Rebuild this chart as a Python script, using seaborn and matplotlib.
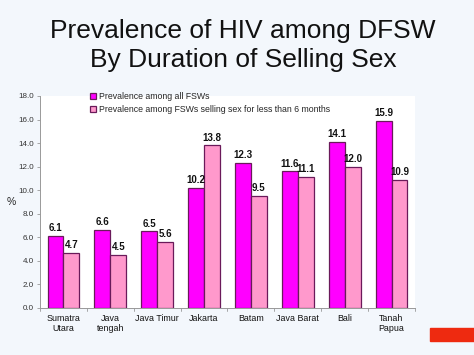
import pandas as pd
import matplotlib.pyplot as plt
import matplotlib.patches as mpatches
import seaborn as sns

# data
regions = ['Sumatra\nUtara', 'Java\ntengah', 'Java Timur', 'Jakarta',
           'Batam', 'Java Barat', 'Bali', 'Tanah\nPapua']
all_fsw = [6.1, 6.6, 6.5, 10.2, 12.3, 11.6, 14.1, 15.9]
short_fsw = [4.7, 4.5, 5.6, 13.8, 9.5, 11.1, 12.0, 10.9]
series_names = ['Prevalence among all FSWs',
                'Prevalence among FSWs selling sex for less than 6 months']
yticks = [0, 2, 4, 6, 8, 10, 12, 14, 16, 18]

df = pd.DataFrame({
    'region': regions * 2,
    'value': all_fsw + short_fsw,
    'series': [series_names[0]] * len(regions) + [series_names[1]] * len(regions),
})

sns.set_style('white')
plt.rcParams['font.family'] = ['Liberation Sans', 'DejaVu Sans']

bg = '#f3f7fc'
fig = plt.figure(figsize=(4.74, 3.55), dpi=100, facecolor=bg)
ax = fig.add_axes([0.0844, 0.1324, 0.791, 0.5972])
ax.set_facecolor('white')

sns.barplot(data=df, x='region', y='value', hue='series',
            palette=['#ff00ff', '#ff99cc'], width=0.68,
            edgecolor='#6a1a5a', linewidth=0.9, saturation=1, ax=ax)

for cont in ax.containers:
    ax.bar_label(cont, fmt='%.1f', padding=2, fontsize=7,
                 fontweight='bold', color='#111111')

ax.set_ylim(0, 18)
ax.set_yticks(yticks)
ax.set_yticklabels([f'{t:.1f}' for t in yticks], fontsize=5.8, color='#333333')
ax.tick_params(axis='y', length=2.5, width=0.6, color='#999999', pad=2, left=True)
ax.set_xticks(range(len(regions)))
ax.set_xticklabels(regions, fontsize=6.4, color='#111111', linespacing=1.15)
ax.tick_params(axis='x', length=0, pad=4)
# small ticks between categories
for i in range(len(regions) + 1):
    ax.plot([i - 0.5, i - 0.5], [0, -0.25], color='#999999', lw=0.6, clip_on=False)
ax.set_xlim(-0.5, len(regions) - 0.5)
ax.set_xlabel('')
ax.set_ylabel('%', rotation=0, fontsize=7.5, labelpad=5, va='center')

sns.despine(ax=ax)
for s in ['left', 'bottom']:
    ax.spines[s].set_color('#999999')
    ax.spines[s].set_linewidth(0.7)

leg = ax.legend(loc='upper left', bbox_to_anchor=(0.125, 1.035), frameon=False,
                fontsize=6.3, handlelength=0.7, handleheight=0.7,
                handletextpad=0.3, labelspacing=0.45, borderaxespad=0)

fig.text(0.513, 0.913, 'Prevalence of HIV among DFSW', ha='center', va='center',
         fontsize=19, color='#111111')
fig.text(0.513, 0.832, 'By Duration of Selling Sex', ha='center', va='center',
         fontsize=19, color='#111111')

# red strip at the bottom right corner
fig.patches.append(mpatches.Rectangle((0.908, 0.04), 0.092, 0.037,
                                      transform=fig.transFigure,
                                      color='#ee2a10', zorder=0))

fig.savefig('out.png', dpi=100, facecolor=bg)
